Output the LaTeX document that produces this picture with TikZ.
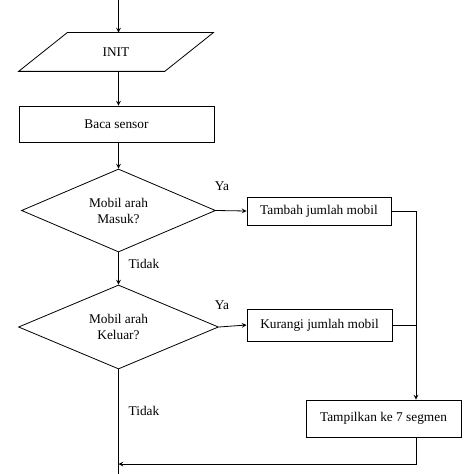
\documentclass[tikz,border=0pt]{standalone}
\usepackage{fontspec}
\setmainfont{Liberation Serif}
\usetikzlibrary{shapes.geometric}

\begin{document}
\begin{tikzpicture}[x=0.75pt,y=-0.75pt,line width=0.6pt]
            \tikzset{box/.style={rectangle,draw,inner sep=0pt,align=center},
                     cond/.style={diamond,draw,inner sep=0pt,aspect=2.3,align=center}}
            \useasboundingbox (0,0) rectangle (474,474);

            \coordinate (start) at (118.5,0);
            \node[rectangle,inner sep=0pt,minimum width=145.5pt,minimum height=28.5pt] (init) at (116,52) {INIT};
            \draw ([xshift=36.5pt]init.north west) -- (init.north east) -- ([xshift=-36.5pt]init.south east) -- (init.south west) -- cycle;
            \node[box,minimum width=146.25pt,minimum height=27pt] (baca) at (116.5,124) {Baca sensor};
            \node[cond,minimum width=145.5pt,minimum height=62.25pt] (masuk) at (118.5,210.5) {Mobil arah\\Masuk?};
            \node[cond,minimum width=150pt,minimum height=63pt] (keluar) at (118.5,327) {Mobil arah\\Keluar?};
            \node[box,minimum width=108pt,minimum height=21pt] (tambah) at (319,211) {Tambah jumlah mobil};
            \node[box,minimum width=108.75pt,minimum height=24pt] (kurangi) at (319.5,325) {Kurangi jumlah mobil};
            \node[box,minimum width=116.25pt,minimum height=27.75pt] (tampil) at (383.5,418.5) {Tampilkan ke 7 segmen};

            \coordinate (join) at (416,211);
            \coordinate (back) at (416,464);
            \coordinate (end) at (118.5,474);

            \node at (222,186) {Ya};
            \node at (222,305) {Ya};
            \node at (144,264) {Tidak};
            \node at (144,411) {Tidak};

            \draw [-stealth](start) -- (start |- init.north);
            \draw [-stealth](init.south -| start) -- (start |- baca.north);
            \draw [-stealth](baca.south -| start) -- (masuk.north);
            \draw [-stealth](masuk.south) -- (keluar.north);
            \draw [-stealth](masuk.east) -- (tambah.west);
            \draw [-stealth](keluar.east) -- (kurangi.west);
            \draw [-stealth](tambah.east) -- (join) -- (join |- tampil.north);
            \draw (kurangi.east) -- (kurangi.east -| join);
            \draw (keluar.south) -- (end);
            \draw [-stealth](tampil.south -| join) -- (back) -- (back -| end);
        \end{tikzpicture}
\end{document}
